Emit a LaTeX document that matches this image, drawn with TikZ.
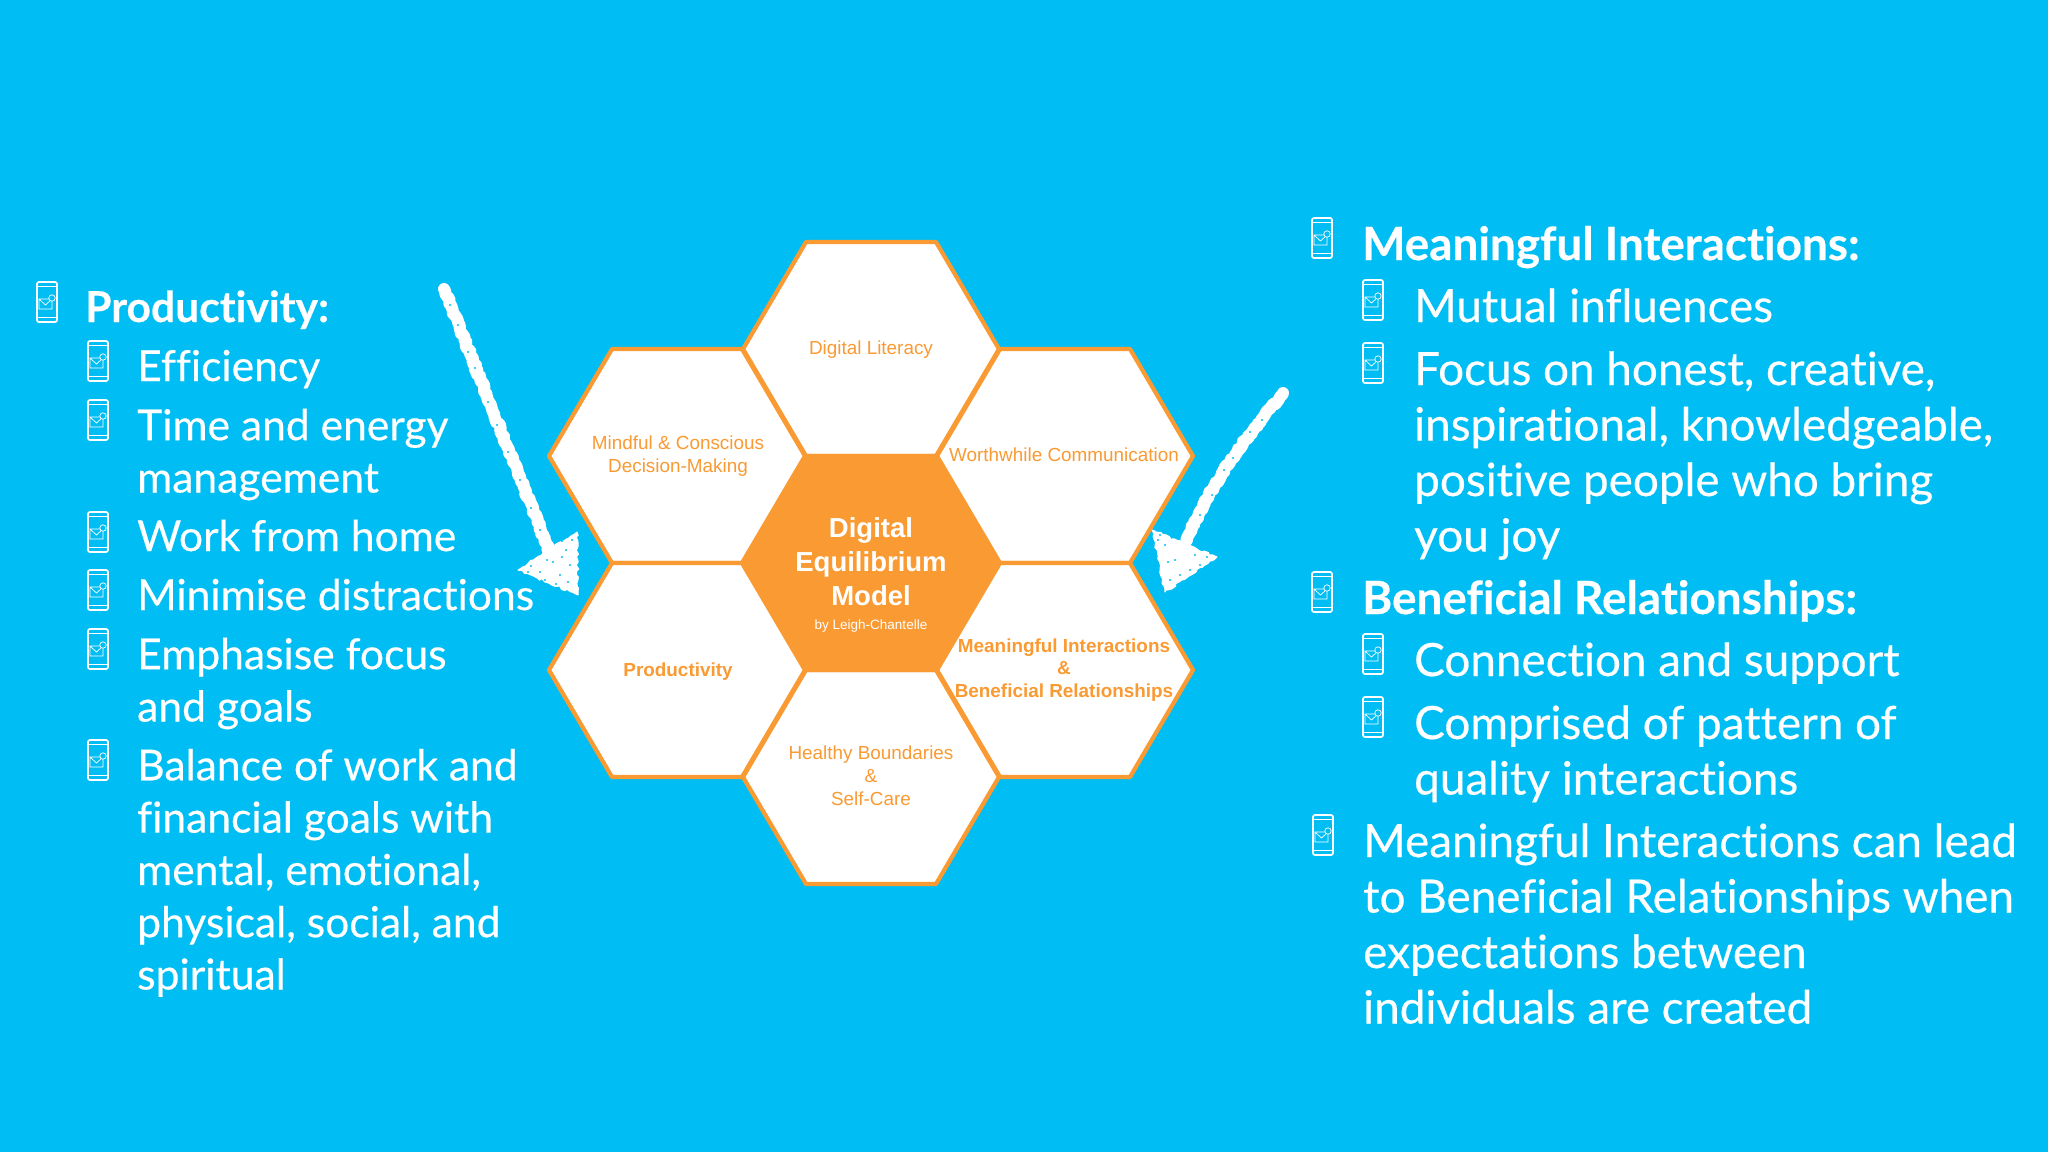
\documentclass[tikz,border=0pt]{standalone}
\usepackage{fontspec}
\setmainfont[Ligatures={NoCommon},FakeBold=0.4]{Lato}
\newfontfamily\hexfont{Liberation Sans}
\usetikzlibrary{decorations.pathmorphing}
\definecolor{skybg}{RGB}{0,190,243}
\definecolor{hexorange}{RGB}{250,154,51}
\tikzset{
  x=1pt,y=-1pt,
  hexline/.style={draw=hexorange,line width=4.2pt,line join=round},
  hexlabel/.style={font=\hexfont\fontsize{18.9}{22.8}\selectfont,text=hexorange,align=center,inner sep=0pt},
  hexbold/.style={hexlabel,font=\hexfont\bfseries\fontsize{18.9}{22.8}\selectfont},
  titlelabel/.style={font=\hexfont\bfseries\fontsize{27.5}{33.7}\selectfont,text=white,align=center,inner sep=0pt},
  bylabel/.style={font=\hexfont\fontsize{13.5}{16}\selectfont,text=white,inner sep=0pt},
  lefttext/.style={font=\fontsize{42.6}{52.3}\selectfont,text=white,align=left,anchor=base west,inner sep=0pt},
  righttext/.style={font=\fontsize{45.8}{55.5}\selectfont,text=white,align=left,anchor=base west,inner sep=0pt},
  chalk/.style={fill=white,draw=white,line width=1pt,line join=round,decorate,decoration={random steps,segment length=3pt,amplitude=1.3pt}},
  chalkline/.style={draw=white,line cap=round,line join=round,decorate,decoration={random steps,segment length=2.5pt,amplitude=1.3pt}},
  iconline/.style={draw=white,line width=0.7pt},
  pics/phoneicon/.style={code={
    \draw[draw=white,line width=1.7pt,rounded corners=2pt] (-10,-20) rectangle (10,20);
    \draw[iconline] (-10,-15.5) -- (10,-15.5) (-10,15.5) -- (10,15.5);
    \draw[iconline] (-8,-3) -- (5,-3) -- (5,7) -- (-8,7) -- cycle (-8,-3) -- (-1.5,3) -- (5,-3);
    \draw[iconline,fill=skybg] (5,-4) circle (3.2);
  }}
}
\newcommand{\hexcell}[4]{%
  \draw[hexline,fill=#4] (#2-128,#3) -- (#2-65,#3-107) -- (#2+65,#3-107) -- (#2+128,#3) -- (#2+65,#3+107) -- (#2-65,#3+107) -- cycle;
}
\begin{document}
\begin{tikzpicture}
\useasboundingbox[fill=skybg] (0,0) rectangle (2048,1152);
% hexagons
\hexcell{lit}{871}{349}{white}
\hexcell{mind}{677}{456}{white}
\hexcell{worth}{1065}{456}{white}
\hexcell{prod}{677}{670}{white}
\hexcell{mean}{1065}{670}{white}
\hexcell{heal}{871}{777}{white}
\hexcell{core}{871}{563}{hexorange}
\node[hexlabel] (litT) at (871,350) {Digital Literacy};
\node[hexlabel] (mindT) at (678,456) {Mindful \& Conscious\\Decision-Making};
\node[hexlabel] (worthT) at (1064,455) {Worthwhile Communication};
\node[hexbold] (prodT) at (678,671.5) {Productivity};
\node[hexbold] (meanT) at (1064,670) {Meaningful Interactions\\\&\\Beneficial Relationships};
\node[hexlabel] (healT) at (871,776) {Healthy Boundaries\\\&\\Self-Care};
\node[titlelabel] (coreT) at (871,561.5) {Digital\\Equilibrium\\Model};
\node[bylabel] (byT) at (871,626) {by Leigh-Chantelle};
% arrows
\coordinate (a1s) at (444,289);
\coordinate (a1e) at (549,550);
\coordinate (a1h1) at (518,570);
\coordinate (a1h2) at (577,532);
\coordinate (a1h3) at (578,595);
\pgfmathsetseed{7}
\draw[chalkline,line width=12pt] (a1s) -- (a1e);
\path[chalk] (a1h1) -- (a1h2) -- (a1h3) -- cycle;
\coordinate (a2s) at (1283,393);
\coordinate (a2e) at (1187,540);
\coordinate (a2h1) at (1152,530);
\coordinate (a2h2) at (1217,557);
\coordinate (a2h3) at (1165,592);
\draw[chalkline,line width=12pt] (a2s) .. controls (1235,450) and (1205,495) .. (a2e);
\path[chalk] (a2h1) -- (a2h2) -- (a2h3) -- cycle;
\foreach \px/\py in {531/566,540/572,553/562,560/575,566/550,570/565,556/584,568/582,547/560,562/541,572/540,528/572,545/580,562/557,
  1160/535,1165/545,1175/560,1180/575,1195/555,1170/580,1200/565,1158/540,1190/570,1168/562,1207/557,
  450/305,458/325,468/352,475/368,488/402,497/425,508/452,520/480,531/508,540/530,
  1262/420,1250/432,1233/458,1224/470,1212/495,1200/515}{
  \fill[skybg] (\px,\py) circle (1.1);
}
% left column
\pic (iL0) at (47,302) {phoneicon};
\node[lefttext] (tL0) at (85,322) {\bfseries Productivity:};
\pic (iL1) at (98,361) {phoneicon};
\node[lefttext] (tL1) at (137,381) {Efficiency};
\pic (iL2) at (98,420) {phoneicon};
\node[lefttext] (tL2) at (137,492.5) {Time and energy\\management};
\pic (iL3) at (98,532) {phoneicon};
\node[lefttext] (tL3) at (137,551) {Work from home};
\pic (iL4) at (98,590) {phoneicon};
\node[lefttext] (tL4) at (137,610) {Minimise distractions};
\pic (iL5) at (98,649) {phoneicon};
\node[lefttext] (tL5) at (137,721.5) {Emphasise focus\\and goals};
\pic (iL6) at (98,760) {phoneicon};
\node[lefttext] (tL6) at (137,989.5) {Balance of work and\\financial goals with\\mental, emotional,\\physical, social, and\\spiritual};
% right column
\pic (iR0) at (1322,238) {phoneicon};
\node[righttext] (tR0) at (1362,260) {\bfseries Meaningful Interactions:};
\pic (iR1) at (1373,300) {phoneicon};
\node[righttext] (tR1) at (1414,322) {Mutual influences};
\pic (iR2) at (1373,363) {phoneicon};
\node[righttext] (tR2) at (1414,551.5) {Focus on honest, creative,\\inspirational, knowledgeable,\\positive people who bring\\you joy};
\pic (iR3) at (1322,592) {phoneicon};
\node[righttext] (tR3) at (1362,614) {\bfseries Beneficial Relationships:};
\pic (iR4) at (1373,654) {phoneicon};
\node[righttext] (tR4) at (1414,676) {Connection and support};
\pic (iR5) at (1373,717) {phoneicon};
\node[righttext] (tR5) at (1414,794.5) {Comprised of pattern of\\quality interactions};
\pic (iR6) at (1323,835) {phoneicon};
\node[righttext] (tR6) at (1363,1023.5) {Meaningful Interactions can lead\\to Beneficial Relationships when\\expectations between\\individuals are created};
\end{tikzpicture}
\end{document}
